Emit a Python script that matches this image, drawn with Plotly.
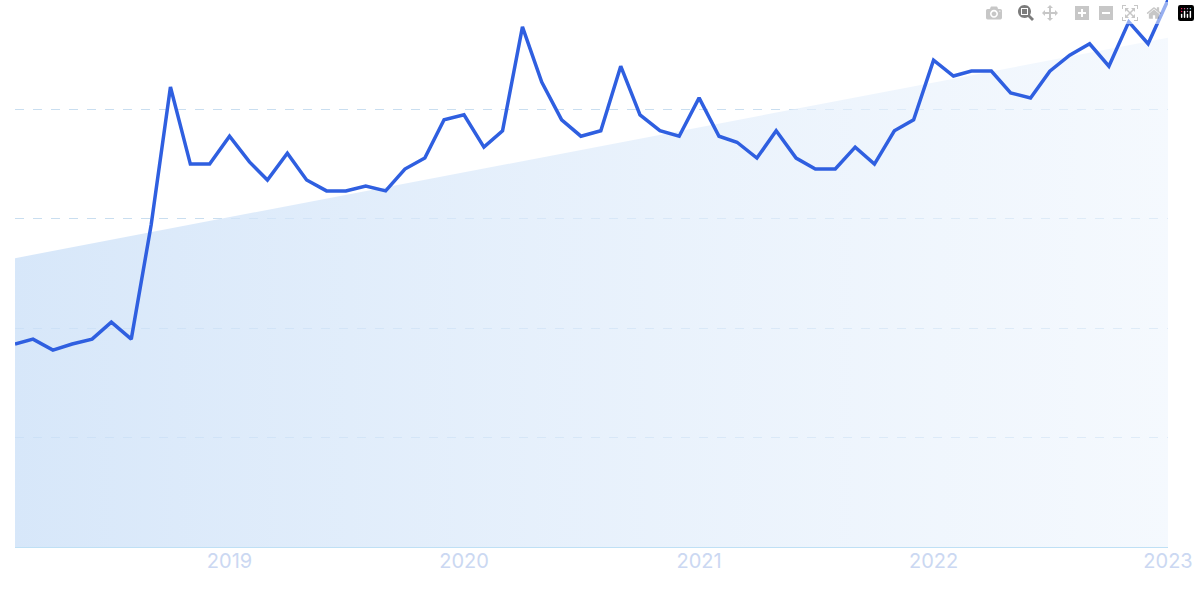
import pandas as pd
import plotly.graph_objects as go

# monthly search interest, Feb 2018 .. Jan 2023
months = pd.date_range("2018-02-01", "2023-01-01", freq="MS")
interest = [37.1, 38.0, 36.0, 37.1, 38.0, 41.1, 38.0, 58.9, 84.1, 70.0, 70.0,
            75.1, 70.4, 67.1, 72.0, 67.1, 65.1, 65.1, 66.0, 65.1, 69.1, 71.1, 78.1,
            79.0, 73.1, 76.1, 95.1, 85.0, 78.1, 75.1, 76.1, 87.9, 79.0, 76.1, 75.1,
            82.1, 75.1, 74.0, 71.1, 76.1, 71.1, 69.1, 69.1, 73.1, 70.0, 76.1, 78.1,
            89.0, 86.1, 87.0, 87.0, 83.0, 82.1, 87.0, 89.9, 92.0, 87.9, 96.0, 92.0,
            100.0]
trend_ends = [52.8, 93.1]
year_ticks = ["2019-01-01", "2020-01-01", "2021-01-01", "2022-01-01", "2023-01-01"]
year_labels = ["2019", "2020", "2021", "2022", "2023"]

fig = go.Figure()

# trend area with gradient
fig.add_trace(go.Scatter(
    x=[months[0], months[-1]], y=trend_ends, mode="lines",
    line=dict(width=0), fill="tozeroy",
    fillgradient=dict(type="horizontal",
                      colorscale=[[0, "rgba(205,225,248,0.8)"], [1, "rgba(238,245,253,0.6)"]]),
    hoverinfo="skip", showlegend=False,
))

fig.add_trace(go.Scatter(
    x=months, y=interest, mode="lines",
    line=dict(color="#2f5fe0", width=3.5),
    cliponaxis=False, showlegend=False,
))

fig.update_layout(
    width=1200, height=599,
    margin=dict(l=15, r=32, t=0, b=52),
    paper_bgcolor="white", plot_bgcolor="white",
    font=dict(family="Inter", size=20, color="#cbd8f2"),
)
fig.update_xaxes(
    range=[months[0], months[-1]], tickvals=year_ticks, ticktext=year_labels,
    showgrid=False, zeroline=False, showline=False, ticks="",
)
fig.update_yaxes(
    range=[0, 100], dtick=20, showticklabels=False,
    showgrid=True, gridcolor="#c9def0", griddash="dash", gridwidth=1,
    zeroline=True, zerolinecolor="#bfe0f5", zerolinewidth=1,
)

fig.write_html("out.html", post_script="document.body.style.margin='0';")
